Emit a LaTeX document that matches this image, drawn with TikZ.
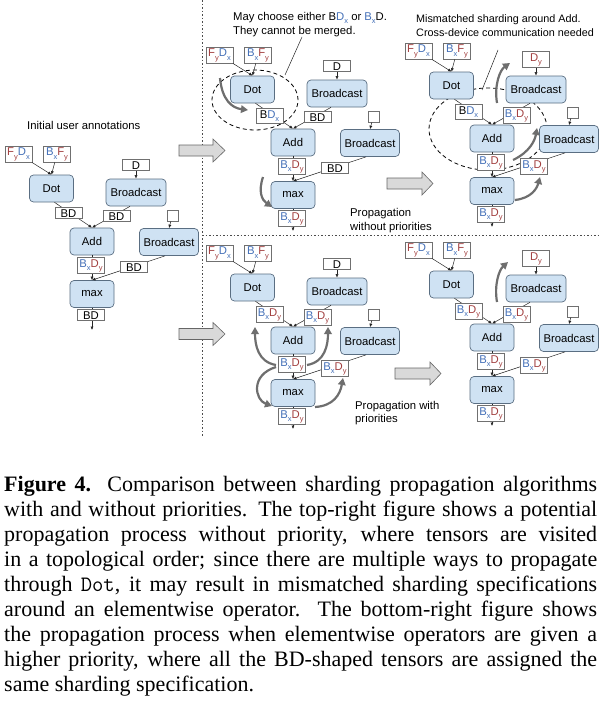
\documentclass[tikz,border=0pt]{standalone}
\usepackage{fontspec}
\setmainfont{Liberation Sans}
\newfontfamily\capfont{Liberation Serif}
\usetikzlibrary{arrows.meta}
\definecolor{mred}{HTML}{A23F3F}
\definecolor{mblue}{HTML}{4470B8}
\definecolor{opfill}{HTML}{CFE2F3}
\definecolor{opline}{HTML}{5A6E82}
\definecolor{garr}{HTML}{6E6E6E}
\definecolor{blkfill}{HTML}{D9D9D9}
\definecolor{lblline}{HTML}{707070}
\newcommand\sbx[1]{\raisebox{-3.5pt}{\fontsize{7.5}{8}\selectfont #1}}
\newcommand\Rx[1]{\textcolor{mblue}{#1\sbx{x}}}
\newcommand\Ry[1]{\textcolor{mred}{#1\sbx{y}}}
\newcommand\FD{\Ry{F}\Rx{D}}
\newcommand\BF{\Rx{B}\Ry{F}}
\newcommand\BxDy{\Rx{B}\Ry{D}}
\newcommand\BDx{B\Rx{D}}
\newcommand\Dy{\Ry{D}}
\tikzset{
  op/.style={draw=opline, fill=opfill, rounded corners=4pt, line width=0.7pt,
    minimum width=44pt, minimum height=27pt, inner sep=1pt,
    font=\fontsize{11.3}{13}\selectfont},
  lbl/.style={draw=lblline, fill=white, line width=0.6pt, inner xsep=1pt, inner ysep=1.5pt,
    minimum width=27pt, text height=8.2pt, font=\fontsize{11.3}{13}\selectfont},
  conn/.style={draw=black!85, line width=0.5pt, -{Latex[length=3.5pt,width=3pt]}},
  plainln/.style={draw=black!85, line width=0.5pt},
  txt/.style={inner sep=0pt, font=\fontsize{11.3}{13}\selectfont},
  garrow/.style={draw=garr, line width=2.2pt, -{Triangle[length=7pt,width=7.5pt]}},
  blk/.style={draw=black!60, fill=blkfill, line width=0.6pt},
  divline/.style={draw=black!70, line width=0.6pt, dash pattern=on 1.5pt off 2pt},
  dellipse/.style={draw=black, line width=0.8pt, dash pattern=on 4pt off 3pt},
  capline/.style={inner sep=0pt, anchor=base west, font=\capfont\fontsize{22}{25}\selectfont},
}
\newcommand\panel[9]{%
\begin{scope}[shift={(#1,#2)}]
\node[op] (#3dot) at (252.5,89.5) {Dot};
\node[op,minimum width=60pt] (#3bca) at (337,93.5) {Broadcast};
\node[op] (#3add) at (293,142.5) {Add};
\node[op,minimum width=59pt] (#3bcb) at (370,143) {Broadcast};
\node[op] (#3max) at (293,195) {max};
\coordinate (#3end) at (293,231);
\draw[conn] ([xshift=3pt]#3dot.south) -- (#3add.north);
\draw[conn] ([xshift=-6pt]#3bca.south) -- (#3add.north);
\draw[conn] ([xshift=-4pt]#3bcb.south) -- (#3max.north);
\draw[conn] (#3add) -- (#3max);
\draw[conn] (#3max) -- (#3end);
\node[lbl] (#3fd) at (219.5,55) {\FD};
\node[lbl] (#3bf) at (258,55) {\BF};
\node[lbl,anchor=south] (#3db) at (337,72) {#4};
\node[lbl,anchor=north] (#3do) at (269.5,108) {#5};
\node[lbl,anchor=north] (#3co) at (317.5,111) {#6};
\node[lbl,anchor=north] (#3ao) at (292,158) {#7};
\node[lbl,anchor=north] (#3bo) at (335,162) {#8};
\node[lbl,anchor=north] (#3mo) at (292,210) {#9};
\node[lbl,minimum width=11pt] (#3eb) at (373.5,116.5) {};
\draw[conn] (#3fd) -- (#3dot.north);
\draw[conn] (#3bf) -- (#3dot.north);
\draw[conn] (#3db) -- (#3bca.north);
\draw[conn] (#3eb) -- (#3bcb.north);
\end{scope}}
\begin{document}
\begin{tikzpicture}[x=1pt,y=-1pt]
\useasboundingbox (0,0) rectangle (600,704);
\fill[white] (0,0) rectangle (600,704);
% dividers
\draw[divline] (202,0) -- (202,436);
\draw[divline] (202,235) -- (600,235);
% ellipses (behind)
\draw[dellipse] (255,100) ellipse [x radius=43pt, y radius=30pt];
\draw[dellipse] (488,129) ellipse [x radius=59pt, y radius=41pt];
% panels
\panel{-201}{99}{L}{D}{BD}{BD}{\BxDy}{BD}{BD}
\panel{0}{0}{A}{D}{\BDx}{BD}{\BxDy}{BD}{\BxDy}
\panel{199}{-4}{B}{\Dy}{\BDx}{\BxDy}{\BxDy}{\BxDy}{\BxDy}
\panel{0}{198}{C}{D}{\BxDy}{\BxDy}{\BxDy}{\BxDy}{\BxDy}
\panel{199}{195}{E}{\Dy}{\BxDy}{\BxDy}{\BxDy}{\BxDy}{\BxDy}
% texts
\node[txt,anchor=base west] (tinit) at (27,129) {Initial user annotations};
\node[txt,anchor=base west] (tmay) at (233,20) {May choose either \BDx{} or \Rx{B}D.};
\node[txt,anchor=base west] (tmerge) at (233,34.5) {They cannot be merged.};
\node[txt,anchor=base west,font=\fontsize{10.8}{13}\selectfont] (tmis) at (416,22.3) {Mismatched sharding around Add.};
\node[txt,anchor=base west,font=\fontsize{10.8}{13}\selectfont] (tcross) at (416,36) {Cross-device communication needed};
\node[txt,anchor=base west] (tpwo) at (350,216) {Propagation};
\node[txt,anchor=base west] (tpwo2) at (350,230) {without priorities};
\node[txt,anchor=base west] (tpw) at (355,409) {Propagation with};
\node[txt,anchor=base west] (tpw2) at (355,422) {priorities};
% pointer lines
\coordinate (pA1) at (302,37); \coordinate (pA2) at (285,75);
\coordinate (pB1) at (498,50); \coordinate (pB2) at (482,90);
\draw[plainln] (pA1) -- (pA2);
\draw[plainln] (pB1) -- (pB2);
% block arrows
\newcommand\blockarrow[4]{\draw[blk] (#1,#4-5.5) -- (#2,#4-5.5) -- (#2,#4-11.5) -- (#3,#4) -- (#2,#4+11.5) -- (#2,#4+5.5) -- (#1,#4+5.5) -- cycle;}
\blockarrow{179}{213}{225}{150.5}
\blockarrow{179}{213}{225}{334}
\blockarrow{387}{422}{433}{183.5}
\blockarrow{395}{430}{441}{373.5}
% gray propagation arrows
\draw[garrow] (220,78) .. controls (222,100) and (232,108) .. (248,110);
\draw[garrow] (263,177) .. controls (258,192) and (262,200) .. (272,207);
\draw[garrow] (497,103) .. controls (494,85) and (500,70) .. (510,63);
\draw[garrow] (513,160) .. controls (530,152) and (535,140) .. (537,128);
\draw[garrow] (515,200) .. controls (532,198) and (537,188) .. (540,177);
\draw[garrow] (276,365) .. controls (258,362) and (255,345) .. (255,327);
\draw[garrow] (307,365) .. controls (325,362) and (328,345) .. (328,327);
\draw[garrow] (276,367) .. controls (250,375) and (255,400) .. (272,406);
\draw[garrow] (315,407) .. controls (333,406) and (340,395) .. (343,378);
\draw[garrow] (497,302) .. controls (494,285) and (499,270) .. (508,262);
% caption
\node[capline] (c1) at (4,491.5) {\makebox[593pt][s]{\textbf{Figure 4.} Comparison between sharding propagation algorithms}};
\node[capline] (c2) at (4,516.5) {\makebox[593pt][s]{with and without priorities. The top-right figure shows a potential}};
\node[capline] (c3) at (4,541.5) {\makebox[593pt][s]{propagation process without priority, where tensors are visited}};
\node[capline] (c4) at (4,566.5) {\makebox[593pt][s]{in a topological order; since there are multiple ways to propagate}};
\node[capline] (c5) at (4,591.5) {\makebox[593pt][s]{through \texttt{Dot}, it may result in mismatched sharding specifications}};
\node[capline] (c6) at (4,616.5) {\makebox[593pt][s]{around an elementwise operator. The bottom-right figure shows}};
\node[capline] (c7) at (4,641.5) {\makebox[593pt][s]{the propagation process when elementwise operators are given a}};
\node[capline] (c8) at (4,666.5) {\makebox[593pt][s]{higher priority, where all the BD-shaped tensors are assigned the}};
\node[capline] (c9) at (4,691.5) {same sharding specification.};
\end{tikzpicture}
\end{document}
